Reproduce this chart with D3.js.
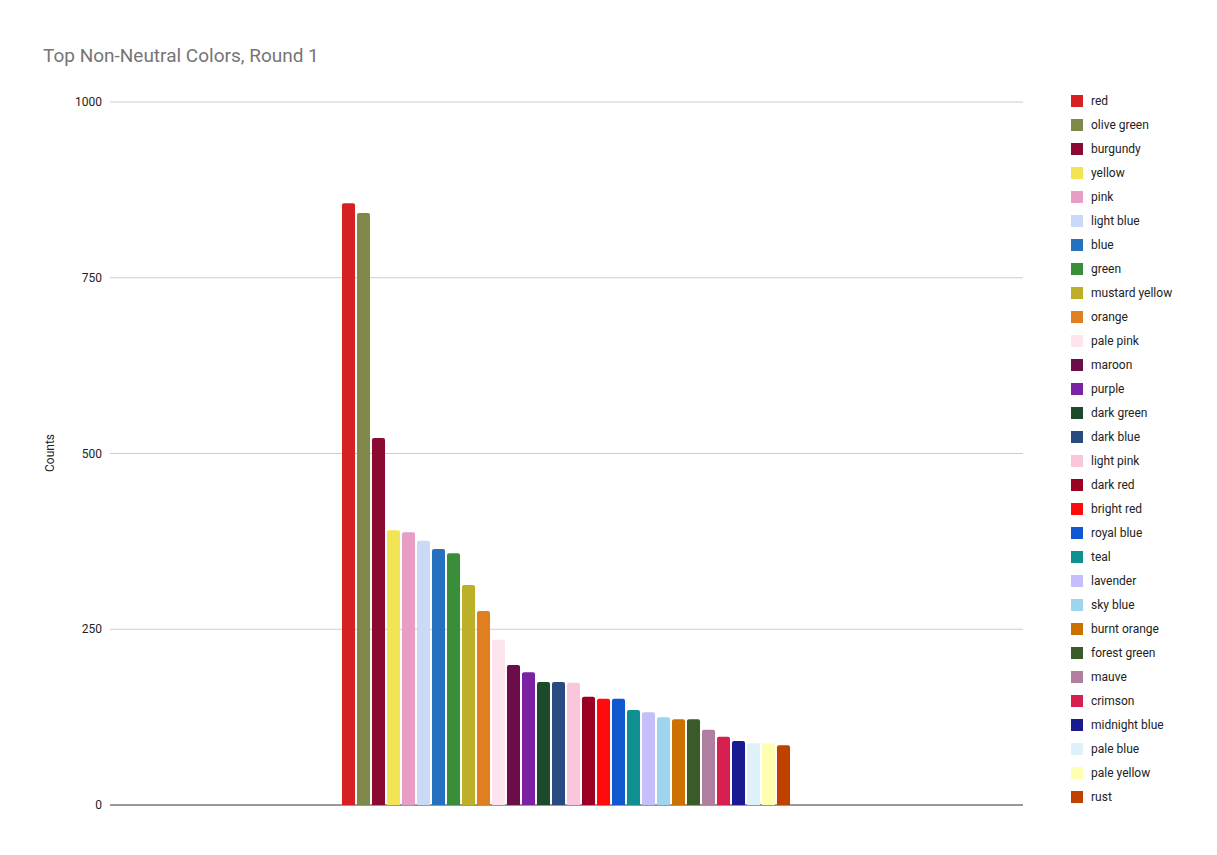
<!DOCTYPE html>
<html><head><meta charset="utf-8">
<script src="https://cdn.jsdelivr.net/npm/d3@7"></script>
<style>body{margin:0;background:#fff;font-family:Roboto,Arial,sans-serif}</style>
</head><body><svg id="c" width="1217" height="855"></svg>
<script>
const categories=["red","olive green","burgundy","yellow","pink","light blue","blue","green","mustard yellow","orange","pale pink","maroon","purple","dark green","dark blue","light pink","dark red","bright red","royal blue","teal","lavender","sky blue","burnt orange","forest green","mauve","crimson","midnight blue","pale blue","pale yellow","rust"];
const counts=[856,842,522,391,388,376,364,358,313,276,235,199,189,175,175,174,154,151,151,135,132,125,122,122,107,97,91,88,88,85];
const colors=["#d62022","#7f8a4a","#8b0a32","#f2e555","#e89dc5","#cad9f5","#2670c0","#3a8e3a","#bbb027","#e07f20","#fde4ef","#6a0d48","#7a22a2","#1c4a2a","#284a80","#f9c6dc","#9a0022","#ff0b0b","#1058d0","#0f9090","#c4befa","#9ed4ee","#cc7000","#3a5a2a","#b07fa0","#d82050","#1a1a90","#dff1f8","#ffffb2","#c04000"];
const yTicks=[0,250,500,750,1000];
const svg=d3.select("#c");
const y=d3.scaleLinear().domain([0,1000]).range([805,102]);
const x=d3.scaleBand().domain(categories).range([341,791]).paddingInner(0.13).paddingOuter(0.065);
svg.append("text").attr("x",43).attr("y",62).attr("font-size",19).attr("fill","#757575").text("Top Non-Neutral Colors, Round 1");
const g=svg.append("g");
yTicks.forEach(t=>{
  g.append("line").attr("x1",110).attr("x2",1023).attr("y1",y(t)).attr("y2",y(t)).attr("stroke",t===0?"#333":"#ccc").attr("stroke-width",1);
  g.append("text").attr("x",102).attr("y",y(t)+4).attr("text-anchor","end").attr("font-size",12).attr("fill","#222").text(t);
});
svg.append("text").attr("transform","translate(54,453) rotate(-90)").attr("text-anchor","middle").attr("font-size",12).attr("fill","#222").text("Counts");
g.selectAll("rect.b").data(categories).join("path").attr("fill",(d,i)=>colors[i])
 .attr("d",(d,i)=>{const x0=x(d),w=x.bandwidth(),t=y(counts[i]),b=y(0),r=2;return `M${x0},${b}V${t+r}Q${x0},${t} ${x0+r},${t}H${x0+w-r}Q${x0+w},${t} ${x0+w},${t+r}V${b}Z`;});
const lg=svg.append("g");
categories.forEach((c,i)=>{
  const yy=101+i*24;
  lg.append("rect").attr("x",1071).attr("y",yy-6).attr("width",12).attr("height",12).attr("fill",colors[i]);
  lg.append("text").attr("x",1091).attr("y",yy+4).attr("font-size",12).attr("fill","#222").text(c);
});
</script></body></html>
